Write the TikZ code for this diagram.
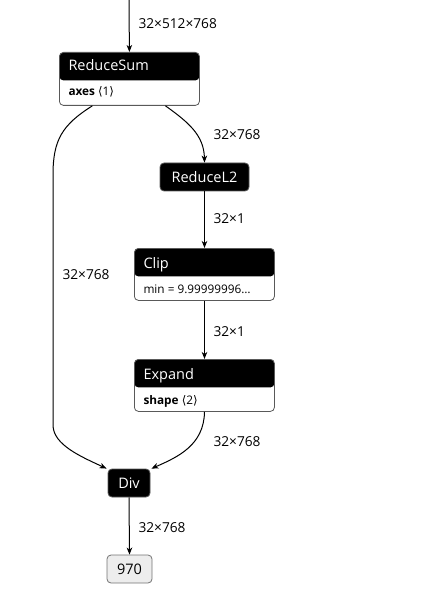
\documentclass[tikz,border=0pt]{standalone}
\usepackage{fontspec}
\setmainfont{Open Sans}
\newfontfamily\symfont{DejaVu Sans}
\usetikzlibrary{arrows.meta}

\begin{document}
\begin{tikzpicture}[x=1pt, y=1pt, line width=1pt,
  >={Stealth[length=7pt, width=5.5pt, inset=2pt]},
  opbox/.style={draw=black!65, line width=0.8pt, rounded corners=4pt,
    fill=white, anchor=north west, inner sep=0pt,
    path picture={\fill[black] (path picture bounding box.north west)
      rectangle ([yshift=-28pt]path picture bounding box.north east);}},
  opnode/.style={draw=black!65, line width=0.8pt, rounded corners=4pt,
    fill=black, text=white, inner sep=0pt, minimum height=28pt,
    font=\fontsize{14.5}{16}\selectfont},
  outnode/.style={draw=black!55, line width=0.8pt, rounded corners=4pt,
    fill=black!7, inner sep=0pt, minimum height=28pt,
    font=\fontsize{14.5}{16}\selectfont},
  head/.style={text=white, anchor=base west, inner sep=0pt,
    font=\fontsize{14.5}{16}\selectfont},
  attr/.style={anchor=base west, inner sep=0pt,
    font=\fontsize{11.8}{13}\selectfont},
  elabel/.style={anchor=base west, inner sep=0pt,
    font=\fontsize{13.7}{15}\selectfont}]
  \useasboundingbox (0,0) rectangle (438,-601);

  \node[opbox, minimum width=140pt, minimum height=53pt] (rsum) at (59,-52) {};
  \node[head] (rsumt) at (68,-71) {ReduceSum};
  \node[attr] (rsuma) at (68,-96) {\textbf{axes} {\symfont⟨}1{\symfont⟩}};

  \node[opnode, minimum width=89pt] (l2) at (204.5,-177) {ReduceL2};

  \node[opbox, minimum width=140pt, minimum height=52pt] (clip) at (134,-248) {};
  \node[head] (clipt) at (143,-268) {Clip};
  \node[attr] (clipa) at (143,-293) {min = 9.99999996…};

  \node[opbox, minimum width=140pt, minimum height=52pt] (expand) at (134,-359) {};
  \node[head] (expandt) at (143,-379) {Expand};
  \node[attr] (expanda) at (143,-404) {\textbf{shape} {\symfont⟨}2{\symfont⟩}};

  \node[opnode, minimum width=42pt] (div) at (129,-483) {Div};
  \node[outnode, minimum width=45pt] (out) at (129.5,-569) {970};

  \coordinate (in) at (129,0);
  \draw[->] (in) -- (rsum.north);
  \node[elabel] (e1) at (138,-29) {32×512×768};

  \draw[->] ([xshift=36pt]rsum.south) .. controls (188,-122) and (204,-135) .. (l2.north);
  \node[elabel] (e2) at (213,-140) {32×768};

  \draw[->] ([xshift=-37pt]rsum.south) .. controls (62,-125) and (53,-140) .. (53,-175)
    -- (53,-425) .. controls (53,-445) and (82,-457) .. ([xshift=-1pt]div.north west);
  \node[elabel] (e3) at (62,-279) {32×768};

  \draw[->] (l2.south) -- (l2.south |- clip.north);
  \node[elabel] (e4) at (213,-224) {32×1};

  \draw[->] (l2.south |- clip.south) -- (l2.south |- expand.north);
  \node[elabel] (e5) at (213,-336) {32×1};

  \draw[->] (l2.south |- expand.south) .. controls (204,-445) and (178,-457) .. ([xshift=1pt]div.north east);
  \node[elabel] (e6) at (213,-446) {32×768};

  \draw[->] (div.south) -- (out.north);
  \node[elabel] (e7) at (138,-532) {32×768};
\end{tikzpicture}
\end{document}
